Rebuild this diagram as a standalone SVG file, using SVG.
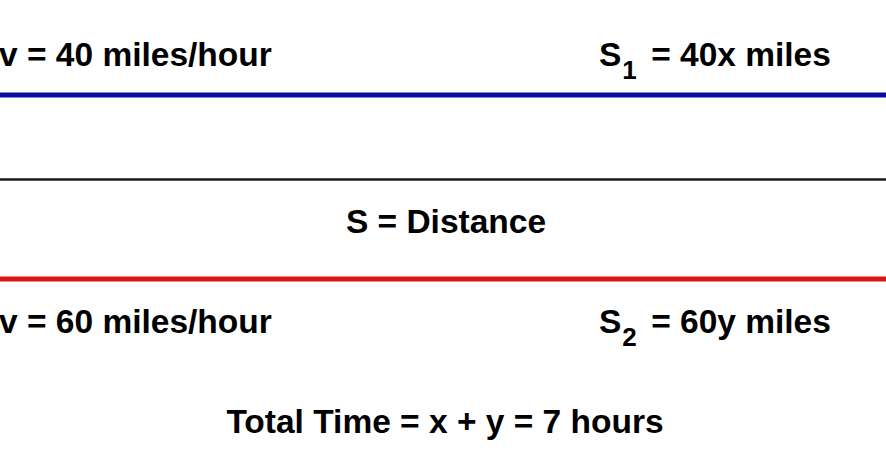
<svg xmlns="http://www.w3.org/2000/svg" width="886" height="465" viewBox="0 0 886 465">
<style>
.t{font-family:"Liberation Sans",Arial,sans-serif;font-weight:bold;font-size:33.5px;fill:#000}
.sub{font-size:26px}
</style>
<rect width="886" height="465" fill="#fff"/>
<g id="connectors">
<line x1="0" y1="95" x2="886" y2="95" stroke="#0c0ca0" stroke-width="5"/>
<line x1="0" y1="179.5" x2="886" y2="179.5" stroke="#1a1a1a" stroke-width="2.5"/>
<line x1="0" y1="279" x2="886" y2="279" stroke="#d81414" stroke-width="5"/>
</g>
<g id="v1"><text class="t" x="-1" y="66">v = 40 miles/hour</text></g>
<g id="s1"><text class="t" x="599" y="66">S<tspan class="sub" dx="1" dy="13">1</tspan><tspan dx="5" dy="-13"> = 40x miles</tspan></text></g>
<g id="dist"><text class="t" x="446" y="233" text-anchor="middle">S = Distance</text></g>
<g id="v2"><text class="t" x="-1" y="333">v = 60 miles/hour</text></g>
<g id="s2"><text class="t" x="599" y="333">S<tspan class="sub" dx="1" dy="13">2</tspan><tspan dx="5" dy="-13"> = 60y miles</tspan></text></g>
<g id="total"><text class="t" x="445" y="433" text-anchor="middle">Total Time = x + y = 7 hours</text></g>
</svg>
